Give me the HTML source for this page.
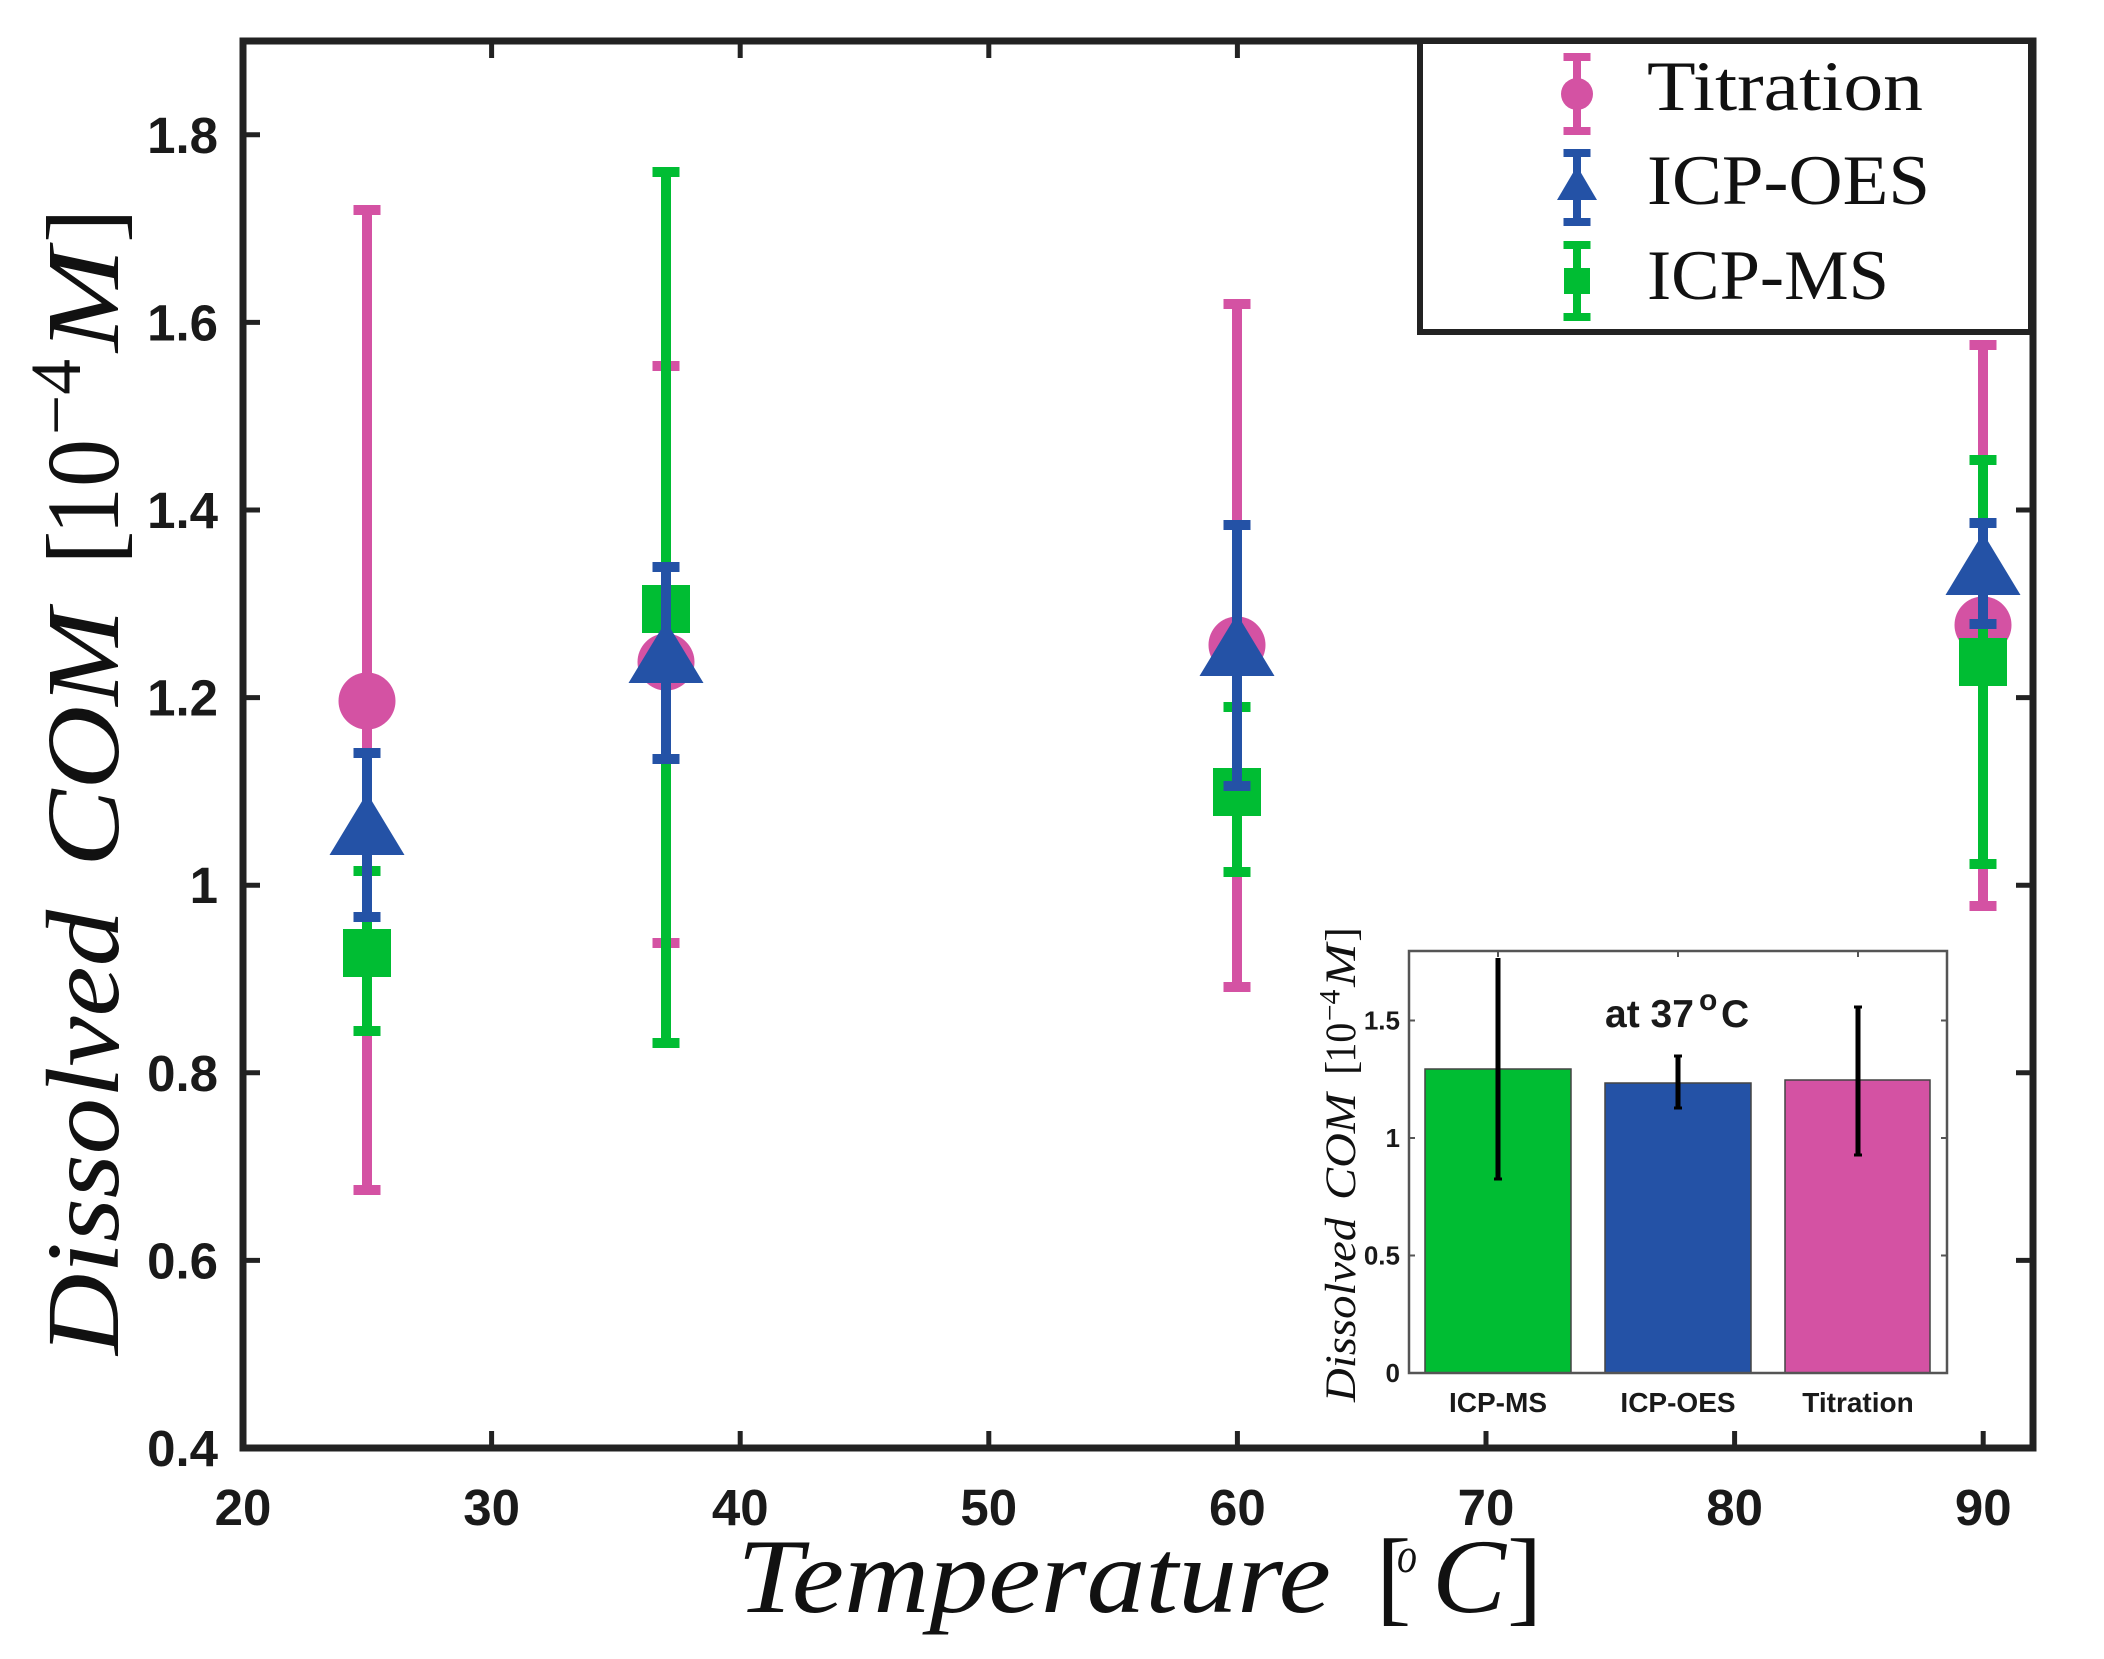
<!DOCTYPE html>
<html>
<head>
<meta charset="utf-8">
<style>
  html,body{margin:0;padding:0;background:#fff;}
  svg{display:block;}
  .tl{font-family:"Liberation Sans",Arial,sans-serif;font-weight:bold;fill:#1a1a1a;}
  .ser{font-family:"Liberation Serif","Times New Roman",serif;fill:#111;}
</style>
</head>
<body>
<svg width="2104" height="1659" viewBox="0 0 2104 1659" xmlns="http://www.w3.org/2000/svg">
  <rect x="0" y="0" width="2104" height="1659" fill="#fff"/>

  <!-- Main axes frame -->
  <rect x="243" y="41" width="1790" height="1407" fill="#fff" stroke="#222" stroke-width="7"/>

  <!-- ticks -->
  <g stroke="#222" stroke-width="5">
    <!-- left -->
    <line x1="243" y1="1260.4" x2="260" y2="1260.4"/>
    <line x1="243" y1="1072.8" x2="260" y2="1072.8"/>
    <line x1="243" y1="885.2" x2="260" y2="885.2"/>
    <line x1="243" y1="697.6" x2="260" y2="697.6"/>
    <line x1="243" y1="510" x2="260" y2="510"/>
    <line x1="243" y1="322.4" x2="260" y2="322.4"/>
    <line x1="243" y1="134.8" x2="260" y2="134.8"/>
    <!-- right -->
    <line x1="2033" y1="1260.4" x2="2016" y2="1260.4"/>
    <line x1="2033" y1="1072.8" x2="2016" y2="1072.8"/>
    <line x1="2033" y1="885.2" x2="2016" y2="885.2"/>
    <line x1="2033" y1="697.6" x2="2016" y2="697.6"/>
    <line x1="2033" y1="510" x2="2016" y2="510"/>
    <!-- bottom -->
    <line x1="491.6" y1="1448" x2="491.6" y2="1431"/>
    <line x1="740.2" y1="1448" x2="740.2" y2="1431"/>
    <line x1="988.8" y1="1448" x2="988.8" y2="1431"/>
    <line x1="1237.4" y1="1448" x2="1237.4" y2="1431"/>
    <line x1="1486" y1="1448" x2="1486" y2="1431"/>
    <line x1="1734.6" y1="1448" x2="1734.6" y2="1431"/>
    <line x1="1983.2" y1="1448" x2="1983.2" y2="1431"/>
    <!-- top -->
    <line x1="491.6" y1="41" x2="491.6" y2="58"/>
    <line x1="740.2" y1="41" x2="740.2" y2="58"/>
    <line x1="988.8" y1="41" x2="988.8" y2="58"/>
    <line x1="1237.4" y1="41" x2="1237.4" y2="58"/>
  </g>

  <!-- Y tick labels -->
  <g class="tl" font-size="51" text-anchor="end">
    <text x="218" y="1466">0.4</text>
    <text x="218" y="1278.4">0.6</text>
    <text x="218" y="1090.8">0.8</text>
    <text x="218" y="903.2">1</text>
    <text x="218" y="715.6">1.2</text>
    <text x="218" y="528">1.4</text>
    <text x="218" y="340.4">1.6</text>
    <text x="218" y="152.8">1.8</text>
  </g>
  <!-- X tick labels -->
  <g class="tl" font-size="51" text-anchor="middle">
    <text x="243" y="1525">20</text>
    <text x="491.6" y="1525">30</text>
    <text x="740.2" y="1525">40</text>
    <text x="988.8" y="1525">50</text>
    <text x="1237.4" y="1525">60</text>
    <text x="1486" y="1525">70</text>
    <text x="1734.6" y="1525">80</text>
    <text x="1983.2" y="1525">90</text>
  </g>

  <!-- Y axis label -->
  <g id="ylab" transform="translate(118,1355) rotate(-90)" class="ser">
    <text x="0" y="0" font-size="104" font-style="italic" textLength="445" lengthAdjust="spacingAndGlyphs">Dissolved</text>
    <text x="488" y="0" font-size="104" font-style="italic" textLength="258" lengthAdjust="spacingAndGlyphs">COM</text>
    <text x="790" y="0" font-size="104">[</text>
    <text x="820" y="0" font-size="104" textLength="96" lengthAdjust="spacingAndGlyphs">10</text>
    <text x="920" y="-38" font-size="72" textLength="76" lengthAdjust="spacingAndGlyphs">−4</text>
    <text x="1003" y="0" font-size="104" font-style="italic" textLength="104" lengthAdjust="spacingAndGlyphs">M</text>
    <text x="1112" y="0" font-size="104">]</text>
  </g>

  <!-- X axis label -->
  <g class="ser">
    <text x="737" y="1612" font-size="106" font-style="italic" textLength="594" lengthAdjust="spacingAndGlyphs">Temperature</text>
    <text x="1376" y="1612" font-size="106">[</text>
    <text x="1397" y="1572" font-size="50" font-style="italic" textLength="20" lengthAdjust="spacingAndGlyphs">o</text>
    <text x="1432" y="1612" font-size="106" font-style="italic" textLength="74" lengthAdjust="spacingAndGlyphs">C</text>
    <text x="1507" y="1612" font-size="106">]</text>
  </g>

  <!-- Titration (pink) -->
  <g stroke="#D452A3" stroke-width="10" fill="none">
    <line x1="367" y1="210" x2="367" y2="1190"/>
    <line x1="353.5" y1="210" x2="380.5" y2="210"/>
    <line x1="353.5" y1="1190" x2="380.5" y2="1190"/>
    <line x1="666" y1="366" x2="666" y2="943"/>
    <line x1="652.5" y1="366" x2="679.5" y2="366"/>
    <line x1="652.5" y1="943" x2="679.5" y2="943"/>
    <line x1="1237" y1="304" x2="1237" y2="987"/>
    <line x1="1223.5" y1="304" x2="1250.5" y2="304"/>
    <line x1="1223.5" y1="987" x2="1250.5" y2="987"/>
    <line x1="1983" y1="345" x2="1983" y2="906"/>
    <line x1="1969.5" y1="345" x2="1996.5" y2="345"/>
    <line x1="1969.5" y1="906" x2="1996.5" y2="906"/>
  </g>
  <g fill="#D452A3">
    <circle cx="367" cy="701" r="28.5"/>
    <circle cx="666" cy="662" r="28.5"/>
    <circle cx="1237" cy="645" r="28.5"/>
    <circle cx="1983" cy="625" r="28.5"/>
  </g>

  <!-- ICP-MS (green) -->
  <g stroke="#00BD33" stroke-width="10" fill="none">
    <line x1="367" y1="871" x2="367" y2="1031"/>
    <line x1="353.5" y1="871" x2="380.5" y2="871"/>
    <line x1="353.5" y1="1031" x2="380.5" y2="1031"/>
    <line x1="666" y1="172" x2="666" y2="1043"/>
    <line x1="652.5" y1="172" x2="679.5" y2="172"/>
    <line x1="652.5" y1="1043" x2="679.5" y2="1043"/>
    <line x1="1237" y1="707" x2="1237" y2="872"/>
    <line x1="1223.5" y1="707" x2="1250.5" y2="707"/>
    <line x1="1223.5" y1="872" x2="1250.5" y2="872"/>
    <line x1="1983" y1="460" x2="1983" y2="864"/>
    <line x1="1969.5" y1="460" x2="1996.5" y2="460"/>
    <line x1="1969.5" y1="864" x2="1996.5" y2="864"/>
  </g>
  <g fill="#00BD33">
    <rect x="343" y="929" width="48" height="48"/>
    <rect x="642" y="585" width="48" height="48"/>
    <rect x="1213" y="768" width="48" height="48"/>
    <rect x="1959" y="638" width="48" height="48"/>
  </g>

  <!-- ICP-OES (blue) -->
  <g fill="#2452A6">
    <polygon points="329.5,855 404.5,855 367,793"/>
    <polygon points="628.5,683 703.5,683 666,621"/>
    <polygon points="1199.5,676 1274.5,676 1237,614"/>
    <polygon points="1945.5,595 2020.5,595 1983,533"/>
  </g>
  <g stroke="#2452A6" stroke-width="10" fill="none">
    <line x1="367" y1="753" x2="367" y2="917"/>
    <line x1="353.5" y1="753" x2="380.5" y2="753"/>
    <line x1="353.5" y1="917" x2="380.5" y2="917"/>
    <line x1="666" y1="567" x2="666" y2="759"/>
    <line x1="652.5" y1="567" x2="679.5" y2="567"/>
    <line x1="652.5" y1="759" x2="679.5" y2="759"/>
    <line x1="1237" y1="525" x2="1237" y2="786"/>
    <line x1="1223.5" y1="525" x2="1250.5" y2="525"/>
    <line x1="1223.5" y1="786" x2="1250.5" y2="786"/>
    <line x1="1983" y1="523" x2="1983" y2="624"/>
    <line x1="1969.5" y1="523" x2="1996.5" y2="523"/>
    <line x1="1969.5" y1="624" x2="1996.5" y2="624"/>
  </g>

  <!-- Legend -->
  <rect x="1420" y="41" width="611" height="291" fill="#fff" stroke="#222" stroke-width="6"/>
  <g stroke-width="8" fill="none">
    <g stroke="#D452A3">
      <line x1="1577" y1="57" x2="1577" y2="131"/>
      <line x1="1563.5" y1="57" x2="1590.5" y2="57"/>
      <line x1="1563.5" y1="131" x2="1590.5" y2="131"/>
    </g>
    <g stroke="#2452A6">
      <line x1="1577" y1="153" x2="1577" y2="222"/>
      <line x1="1563.5" y1="153" x2="1590.5" y2="153"/>
      <line x1="1563.5" y1="222" x2="1590.5" y2="222"/>
    </g>
    <g stroke="#00BD33">
      <line x1="1577" y1="245" x2="1577" y2="317"/>
      <line x1="1563.5" y1="245" x2="1590.5" y2="245"/>
      <line x1="1563.5" y1="317" x2="1590.5" y2="317"/>
    </g>
  </g>
  <circle cx="1577" cy="94" r="16" fill="#D452A3"/>
  <polygon points="1557,200 1597,200 1577,166" fill="#2452A6"/>
  <rect x="1564" y="268" width="26" height="26" fill="#00BD33"/>
  <g class="ser" font-size="71">
    <text x="1647" y="110" textLength="276" lengthAdjust="spacingAndGlyphs">Titration</text>
    <text x="1647" y="204" textLength="283" lengthAdjust="spacingAndGlyphs">ICP-OES</text>
    <text x="1647" y="299" textLength="242" lengthAdjust="spacingAndGlyphs">ICP-MS</text>
  </g>

  <!-- Inset -->
  <rect x="1409" y="951" width="538" height="422" fill="#fff"/>
  <rect x="1425" y="1069" width="146" height="304" fill="#00BD33" stroke="#444" stroke-width="1.5"/>
  <rect x="1605" y="1083" width="146" height="290" fill="#2452A6" stroke="#444" stroke-width="1.5"/>
  <rect x="1785" y="1080" width="145" height="293" fill="#D452A3" stroke="#444" stroke-width="1.5"/>
  <g stroke="#000" stroke-width="5">
    <line x1="1498" y1="958" x2="1498" y2="1179"/>
    <line x1="1678" y1="1056" x2="1678" y2="1108"/>
    <line x1="1858" y1="1007" x2="1858" y2="1155"/>
  </g>
  <g stroke="#000" stroke-width="3">
    <line x1="1494" y1="1179" x2="1502" y2="1179"/>
    <line x1="1674" y1="1056" x2="1682" y2="1056"/>
    <line x1="1674" y1="1108" x2="1682" y2="1108"/>
    <line x1="1854" y1="1007" x2="1862" y2="1007"/>
    <line x1="1854" y1="1155" x2="1862" y2="1155"/>
  </g>
  <rect x="1409" y="951" width="538" height="422" fill="none" stroke="#555" stroke-width="2.5"/>
  <g stroke="#555" stroke-width="2">
    <line x1="1409" y1="1255.5" x2="1415" y2="1255.5"/>
    <line x1="1409" y1="1138" x2="1415" y2="1138"/>
    <line x1="1409" y1="1020.5" x2="1415" y2="1020.5"/>
    <line x1="1947" y1="1255.5" x2="1941" y2="1255.5"/>
    <line x1="1947" y1="1138" x2="1941" y2="1138"/>
    <line x1="1947" y1="1020.5" x2="1941" y2="1020.5"/>
    <line x1="1498" y1="951" x2="1498" y2="957"/>
    <line x1="1678" y1="951" x2="1678" y2="957"/>
    <line x1="1858" y1="951" x2="1858" y2="957"/>
  </g>
  <g class="tl" font-size="26" text-anchor="end">
    <text x="1400" y="1382">0</text>
    <text x="1400" y="1264.5">0.5</text>
    <text x="1400" y="1147">1</text>
    <text x="1400" y="1029.5">1.5</text>
  </g>
  <g class="tl" font-size="28" text-anchor="middle">
    <text x="1498" y="1412">ICP-MS</text>
    <text x="1678" y="1412">ICP-OES</text>
    <text x="1858" y="1412">Titration</text>
  </g>
  <g class="tl">
    <text x="1605" y="1027" font-size="39">at 37</text>
    <text x="1699" y="1010" font-size="30">o</text>
    <text x="1721" y="1027" font-size="39">C</text>
  </g>
  <!-- inset y label -->
  <g transform="translate(1355,1402) rotate(-90) scale(0.414)" class="ser">
    <text x="0" y="0" font-size="104" font-style="italic" textLength="445" lengthAdjust="spacingAndGlyphs">Dissolved</text>
    <text x="488" y="0" font-size="104" font-style="italic" textLength="258" lengthAdjust="spacingAndGlyphs">COM</text>
    <text x="790" y="0" font-size="104">[</text>
    <text x="820" y="0" font-size="104" textLength="96" lengthAdjust="spacingAndGlyphs">10</text>
    <text x="920" y="-38" font-size="72" textLength="76" lengthAdjust="spacingAndGlyphs">−4</text>
    <text x="1003" y="0" font-size="104" font-style="italic" textLength="104" lengthAdjust="spacingAndGlyphs">M</text>
    <text x="1112" y="0" font-size="104">]</text>
  </g>
</svg>
</body>
</html>
